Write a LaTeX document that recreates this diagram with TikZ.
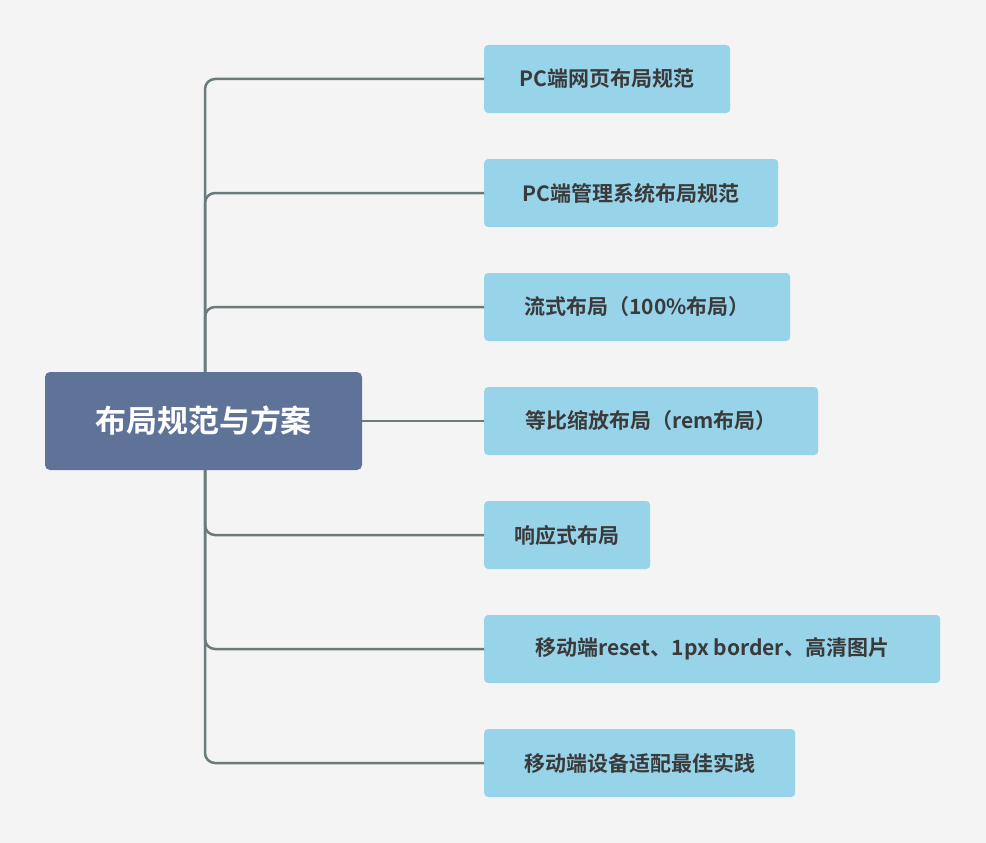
\documentclass[tikz,border=0pt]{standalone}
\usepackage{fontspec}
\newfontfamily\cjk{Noto Sans CJK SC Bold}
\definecolor{bg}{HTML}{F4F4F4}
\definecolor{rootc}{HTML}{5F7399}
\definecolor{leafc}{HTML}{97D3E9}
\definecolor{linec}{HTML}{6B7B7B}
\definecolor{txt}{HTML}{3A3A3A}
\begin{document}
\begin{tikzpicture}[x=1pt,y=1pt,
  leaf/.style={draw=none,fill=leafc,rounded corners=4pt,anchor=west,minimum height=68pt,inner xsep=24pt,align=left,text=txt,font=\cjk\fontsize{21}{24}\selectfont},
  conn/.style={draw=linec,line width=2.5pt,rounded corners=10pt}]
\fill[bg] (0,0) rectangle (986,-843);
\useasboundingbox (0,0) rectangle (986,-843);
\coordinate (j) at (205,-421);
\node[leaf,minimum width=246pt] (c1) at (484,-79) {PC端网页布局规范};
\node[leaf,minimum width=294pt] (c2) at (484,-193) {PC端管理系统布局规范};
\node[leaf,minimum width=306pt] (c3) at (484,-307) {流式布局（100\%布局）};
\node[leaf,minimum width=334pt] (c4) at (484,-421) {等比缩放布局（rem布局）};
\node[leaf,minimum width=166pt] (c5) at (484,-535) {响应式布局};
\node[leaf,minimum width=456pt] (c6) at (484,-649) {移动端reset、1px border、高清图片};
\node[leaf,minimum width=311pt] (c7) at (484,-763) {移动端设备适配最佳实践};
\foreach \i in {1,2,3,5,6,7} \draw[conn] (j) |- (c\i.west);
\node[fill=rootc,rounded corners=5pt,minimum width=317pt,minimum height=98pt,text=white,font=\cjk\fontsize{31}{36}\selectfont] (root) at (203.5,-421) {布局规范与方案};
\draw[conn] (root.east) -- (c4.west);
\end{tikzpicture}
\end{document}
